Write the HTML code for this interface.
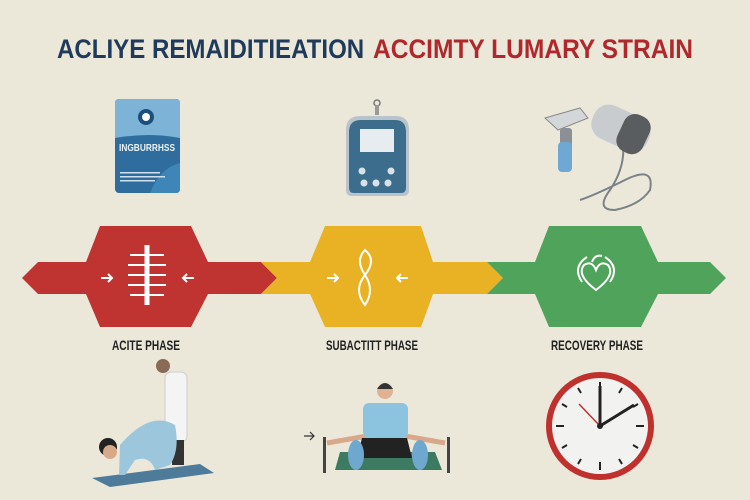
<!DOCTYPE html>
<html><head><meta charset="utf-8"><style>
html,body{margin:0;padding:0;background:#ebe8da;}
svg{display:block}
.t{font-family:"Liberation Sans",sans-serif;font-weight:bold;}
</style></head><body>
<svg width="750" height="500" viewBox="0 0 750 500" xmlns="http://www.w3.org/2000/svg">
<rect width="750" height="500" fill="#ebe8da"/>
<!-- title -->
<text class="t" x="57" y="58" font-size="27" fill="#1f3a5a" transform="translate(57 0) scale(0.8 1) translate(-57 0)" textLength="384" lengthAdjust="spacingAndGlyphs">ACLIYE REMAIDITIEATION</text>
<text class="t" x="373" y="58" font-size="27" fill="#b0282c" textLength="320" lengthAdjust="spacingAndGlyphs">ACCIMTY LUMARY STRAIN</text>

<!-- card -->
<rect x="115" y="99" width="65" height="94" rx="4" fill="#2f6d9e"/>
<path d="M115 103 q0-4 4-4 h57 q4 0 4 4 v35 q-30-6-65 0z" fill="#7cb3d6"/>
<path d="M150 193 q10-25 30-30 v26 q0 4-4 4z" fill="#3f86b8"/>
<circle cx="146" cy="117" r="8" fill="#1d4f7c"/><circle cx="146" cy="117" r="4" fill="#fff"/>
<text class="t" x="119" y="151" font-size="10" fill="#e8f0f7" textLength="56" lengthAdjust="spacingAndGlyphs">INGBURRHSS</text>
<rect x="120" y="172" width="40" height="1.5" fill="#cfe0ee"/><rect x="120" y="176" width="45" height="1.5" fill="#cfe0ee"/><rect x="120" y="180" width="35" height="1.5" fill="#cfe0ee"/>

<!-- device -->
<circle cx="377" cy="103" r="3" fill="none" stroke="#777" stroke-width="1.5"/>
<rect x="375" y="105" width="4" height="10" fill="#999"/>
<path d="M346 130 q0-14 14-14 h36 q13 0 13 14 v60 q0 6-6 6 h-51 q-6 0-6-6z" fill="#b8c3cb"/>
<path d="M349 132 q0-12 12-12 h34 q11 0 11 12 v56 q0 5-5 5 h-47 q-5 0-5-5z" fill="#3d6d8c"/>
<rect x="360" y="129" width="34" height="23" fill="#e6ecef"/>
<circle cx="362" cy="171" r="3.5" fill="#d9e2e8"/><circle cx="391" cy="171" r="3.5" fill="#d9e2e8"/>
<circle cx="364" cy="183" r="3.5" fill="#d9e2e8"/><circle cx="376" cy="183" r="3.5" fill="#d9e2e8"/><circle cx="388" cy="183" r="3.5" fill="#d9e2e8"/>

<!-- inhaler -->
<path d="M620 130 q10 30-10 60 q-15 20 5 20 q25-5 35-20 q5-25-25-10 q-30 15-45 20" fill="none" stroke="#7a8288" stroke-width="2"/>
<g transform="rotate(25 620 130)"><rect x="590" y="110" width="60" height="36" rx="16" fill="#c9ccce"/><rect x="620" y="108" width="28" height="40" rx="12" fill="#5a5d60"/></g>
<path d="M545 118 l35-10 l8 10 l-30 12z" fill="#d4d7d9" stroke="#888"/>
<rect x="560" y="128" width="12" height="40" rx="3" fill="#8a9095"/>
<rect x="558" y="142" width="14" height="30" rx="4" fill="#6fa8d3"/>

<!-- band arrows -->
<polygon points="22,278 38,262 261,262 277,278 261,294 38,294" fill="#bf3330"/>
<polygon points="100,226 191,226 208,262 208,294 191,327 100,327 86,294 86,262" fill="#bf3330"/>
<polygon points="261,262 487,262 503,278 487,294 261,294 277,278" fill="#e8b224"/>
<polygon points="325,226 421,226 433,262 433,294 421,327 325,327 310,294 310,262" fill="#e8b224"/>
<polygon points="487,262 710,262 726,278 710,294 487,294 503,278" fill="#4fa35a"/>
<polygon points="549,226 641,226 658,262 658,294 641,327 549,327 535,294 535,262" fill="#4fa35a"/>

<!-- icons in hexagons -->
<g stroke="#fff" fill="none" stroke-width="2">
<line x1="147" y1="245" x2="147" y2="305" stroke-width="5"/>
<path d="M130 255 h34 M128 265 h38 M128 275 h38 M128 285 h38 M130 295 h34"/>
<path d="M101 278 h10 M108 274 l4 4 -4 4 M194 278 h-10 M187 274 l-4 4 4 4"/>
<path d="M365 250 q-10 10 0 25 q10 15 0 30 q-12-15 0-30 q12-15 0-25z"/>
<path d="M327 278 h10 M334 274 l4 4 -4 4 M408 278 h-10 M401 274 l-4 4 4 4"/>
<path d="M596 290 q-20-15-12-25 q8-5 12 5 q4-10 12-5 q8 10-12 25z"/>
<path d="M582 282 q-10-15 5-25 M610 282 q10-15-5-25 M592 262 q3-8 10-6"/>
</g>

<!-- labels -->
<text class="t" x="146" y="350" font-size="14" fill="#222" text-anchor="middle" textLength="68" lengthAdjust="spacingAndGlyphs">ACITE PHASE</text>
<text class="t" x="372" y="350" font-size="14" fill="#222" text-anchor="middle" textLength="92" lengthAdjust="spacingAndGlyphs">SUBACTITT PHASE</text>
<text class="t" x="597" y="350" font-size="14" fill="#222" text-anchor="middle" textLength="92" lengthAdjust="spacingAndGlyphs">RECOVERY PHASE</text>

<!-- bottom left: doctor + patient -->
<polygon points="92,478 200,464 214,473 110,487" fill="#4f7b9a"/>
<rect x="165" y="372" width="22" height="70" rx="6" fill="#f4f4f4" stroke="#ccc"/>
<circle cx="163" cy="366" r="7" fill="#8a6a55"/>
<rect x="172" y="440" width="12" height="25" fill="#333"/>
<path d="M120 445 q30-35 55-20 q5 25-5 40 l-15 5 q-5-15-20-10 l-10 15 h-6z" fill="#9cc6dc"/>
<circle cx="108" cy="447" r="9" fill="#222"/>
<circle cx="110" cy="452" r="7" fill="#d8a888"/>

<!-- bottom middle: exercise -->
<rect x="323" y="437" width="3" height="36" fill="#444"/>
<rect x="447" y="437" width="3" height="36" fill="#444"/>
<polygon points="335,470 340,452 435,452 442,470" fill="#3d7a62"/>
<path d="M327 443 l40-7 M445 443 l-40-7" stroke="#d9a88a" stroke-width="5"/>
<rect x="363" y="403" width="45" height="35" rx="6" fill="#8cc4e0"/>
<circle cx="385" cy="391" r="8" fill="#e0b294"/><path d="M377 389 q8-12 16 0" fill="#333"/>
<path d="M362 438 h45 l5 20 h-55z" fill="#222"/>
<ellipse cx="356" cy="455" rx="8" ry="15" fill="#6fa8cf"/><ellipse cx="420" cy="455" rx="8" ry="15" fill="#6fa8cf"/>
<path d="M304 436 h10 M310 432 l4 4 -4 4" stroke="#333" fill="none" stroke-width="1.2"/>

<!-- clock -->
<circle cx="600" cy="426" r="54" fill="#c0302c"/>
<circle cx="600" cy="426" r="48" fill="#f2f2f0"/>
<g stroke="#222" stroke-width="2">
<line x1="600" y1="382" x2="600" y2="390"/><line x1="600" y1="462" x2="600" y2="470"/>
<line x1="556" y1="426" x2="564" y2="426"/><line x1="636" y1="426" x2="644" y2="426"/>
<line x1="622" y1="388" x2="619" y2="393"/><line x1="638" y1="404" x2="633" y2="407"/>
<line x1="638" y1="448" x2="633" y2="445"/><line x1="622" y1="464" x2="619" y2="459"/>
<line x1="578" y1="464" x2="581" y2="459"/><line x1="562" y1="448" x2="567" y2="445"/>
<line x1="562" y1="404" x2="567" y2="407"/><line x1="578" y1="388" x2="581" y2="393"/>
<line x1="600" y1="426" x2="600" y2="386" stroke-width="3"/>
<line x1="600" y1="426" x2="634" y2="405" stroke-width="3"/>
</g>
<line x1="600" y1="426" x2="579" y2="404" stroke="#c0302c" stroke-width="1.5"/>
<circle cx="600" cy="426" r="3" fill="#222"/>
</svg>
</body></html>
